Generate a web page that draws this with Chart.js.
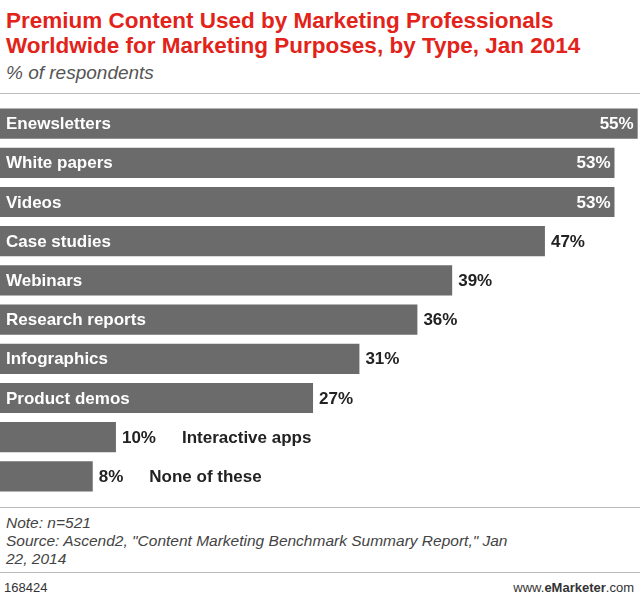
<!DOCTYPE html>
<html>
<head>
<meta charset="utf-8">
<script src="https://cdn.jsdelivr.net/npm/chart.js@4"></script>
<style>
  body { margin: 0; width: 640px; height: 600px; background: #fff; font-family: Arial, "Liberation Sans", sans-serif; position: relative; overflow: hidden; }
  .title { position: absolute; left: 6px; top: 8px; color: #e2231a; font-weight: bold; font-size: 22.5px; line-height: 25px; white-space: nowrap; }
  .sub { position: absolute; left: 6px; top: 62px; color: #555; font-style: italic; font-size: 19px; }
  .rule { position: absolute; left: 0; width: 640px; height: 1px; background: #bbb; }
  .note { position: absolute; left: 6px; top: 514px; color: #444; font-style: italic; font-size: 15.5px; line-height: 18px; }
  .foot { position: absolute; top: 580px; font-size: 13px; color: #333; }
  #wrap { position: absolute; left: 0; top: 104px; width: 640px; height: 392px; }
</style>
</head>
<body>
<div class="title">Premium Content Used by Marketing Professionals<br>Worldwide for Marketing Purposes, by Type, Jan 2014</div>
<div class="sub">% of respondents</div>
<div class="rule" style="top:93px"></div>
<div id="wrap"><canvas id="c"></canvas></div>
<div class="rule" style="top:507px"></div>
<div class="note">Note: n=521<br>Source: Ascend2, "Content Marketing Benchmark Summary Report," Jan<br>22, 2014</div>
<div class="rule" style="top:572px"></div>
<div class="foot" style="left:4px">168424</div>
<div class="foot" style="right:6px">www.<b>eMarketer</b>.com</div>
<script>
const categories = ['Enewsletters', 'White papers', 'Videos', 'Case studies', 'Webinars',
  'Research reports', 'Infographics', 'Product demos', 'Interactive apps', 'None of these'];
const values = [55, 53, 53, 47, 39, 36, 31, 27, 10, 8];

const labelPlugin = {
  id: 'labels',
  afterDatasetsDraw(chart) {
    const ctx = chart.ctx;
    const meta = chart.getDatasetMeta(0);
    ctx.save();
    ctx.font = 'bold 17px Arial, "Liberation Sans", sans-serif';
    ctx.textBaseline = 'middle';
    meta.data.forEach((bar, i) => {
      const y = bar.y + 1;
      const val = values[i] + '%';
      const valW = ctx.measureText(val).width;
      if (values[i] >= 20) {
        ctx.fillStyle = '#fff';
        ctx.textAlign = 'left';
        ctx.fillText(categories[i], 6, y);
        if (bar.x + 8 + valW > chart.width) {
          ctx.textAlign = 'right';
          ctx.fillText(val, bar.x - 4, y);
        } else {
          ctx.fillStyle = '#222';
          ctx.textAlign = 'left';
          ctx.fillText(val, bar.x + 6, y);
        }
      } else {
        ctx.fillStyle = '#222';
        ctx.textAlign = 'left';
        ctx.fillText(val, bar.x + 6, y);
        ctx.fillText(categories[i], bar.x + valW + 32, y);
      }
    });
    ctx.restore();
  }
};

new Chart(document.getElementById('c'), {
  type: 'bar',
  data: {
    labels: categories,
    datasets: [{ data: values, backgroundColor: '#6b6b6b', categoryPercentage: 0.77, barPercentage: 1 }]
  },
  options: {
    indexAxis: 'y',
    responsive: true,
    maintainAspectRatio: false,
    animation: false,
    layout: { padding: 0 },
    scales: {
      x: { display: false, min: 0, max: 55.2 },
      y: { display: false }
    },
    plugins: { legend: { display: false }, tooltip: { enabled: false } }
  },
  plugins: [labelPlugin]
});
</script>
</body>
</html>
